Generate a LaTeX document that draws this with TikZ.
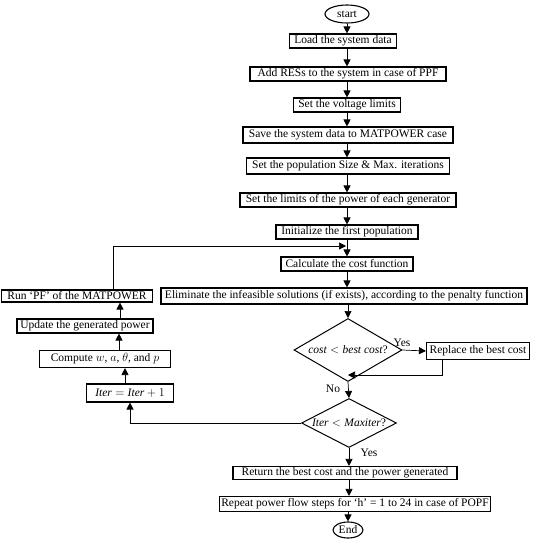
\documentclass[tikz,border=0pt]{standalone}
\usepackage{fontspec}
\setmainfont{Liberation Serif}
\usetikzlibrary{arrows.meta,shapes.geometric}
\begin{document}
\begin{tikzpicture}[x=1pt,y=-1pt,
  box/.style={draw,line width=1.1pt,inner xsep=1.5pt,inner ysep=0.5pt,minimum height=14pt,font=\fontsize{11.5}{12}\selectfont},
  term/.style={draw,ellipse,line width=1.1pt,inner sep=0pt,font=\fontsize{11.5}{12}\selectfont},
  dec/.style={draw,diamond,line width=1pt,inner sep=0pt,font=\fontsize{11.5}{12}\selectfont},
  conn/.style={line width=0.7pt,-{Triangle[length=7pt,width=7pt]}},
  lbl/.style={font=\fontsize{11.5}{12}\selectfont,inner sep=1pt}
]
\useasboundingbox (0,0) rectangle (539,550);
\node[term,minimum width=44pt,minimum height=18pt] (start) at (347,14) {start};
\node[box,minimum width=107pt] (load) at (343,41) {Load the system data};
\node[box,minimum width=196pt] (add) at (348,74) {Add RESs to the system in case of PPF};
\node[box,minimum width=107pt] (volt) at (347,105) {Set the voltage limits};
\node[box,minimum width=210pt,minimum height=16pt] (save) at (348,135) {Save the system data to MATPOWER case};
\node[box,minimum width=203pt,minimum height=16pt] (pop) at (348,166) {Set the population Size \& Max. iterations};
\node[box,minimum width=216pt] (lim) at (348,200) {Set the limits of the power of each generator};
\node[box,minimum width=142pt] (init) at (347,232) {Initialize the first population};
\node[box,minimum width=132pt] (calc) at (347,264) {Calculate the cost function};
\node[box,minimum width=366pt,minimum height=16pt] (elim) at (344,296) {Eliminate the infeasible solutions (if exists), according to the penalty function};
\node[dec,minimum width=108pt,minimum height=63pt] (d1) at (348,350) {\makebox[0pt][c]{$\mathit{cost} < \mathit{best\ cost}$?}};
\node[box,minimum width=103pt,minimum height=17pt] (rep) at (478,351) {Replace the best cost};
\node[dec,minimum width=95pt,minimum height=49pt] (d2) at (349,423) {\makebox[0pt][c]{$\mathit{Iter} < \mathit{Maxiter}$?}};
\node[box,minimum width=224pt,minimum height=13pt] (ret) at (345,473) {Return the best cost and the power generated};
\node[box,minimum width=265pt,minimum height=15pt] (rpt) at (355,504) {Repeat power flow steps for ‘h’ = 1 to 24 in case of POPF};
\node[term,minimum width=30pt,minimum height=16pt] (end) at (348,530) {End};
\node[box,minimum width=151pt,minimum height=12pt] (run) at (77,296) {Run ‘PF’ of the MATPOWER};
\node[box,minimum width=136pt] (upd) at (85,326) {Update the generated power};
\node[box,minimum width=131pt,minimum height=17pt] (comp) at (105,359) {Compute $w$, $a$, $\theta$, and $p$};
\node[box,minimum width=87pt,minimum height=18pt] (iter) at (130,393) {$\mathit{Iter} = \mathit{Iter} + 1$};
\node[lbl] (yes1) at (402,343) {Yes};
\node[lbl] (no1) at (333,389) {No};
\node[lbl] (yes2) at (369,453) {Yes};
\coordinate (j1) at (348,375);
\coordinate (m) at (346,246);
\draw[conn] (start) -- (start |- load.north);
\draw[conn] (load.south -| start) -- (start |- add.north);
\draw[conn] (add.south -| start) -- (start |- volt.north);
\draw[conn] (volt.south -| start) -- (start |- save.north);
\draw[conn] (save.south -| start) -- (start |- pop.north);
\draw[conn] (pop.south -| start) -- (start |- lim.north);
\draw[conn] (lim.south -| start) -- (start |- init.north);
\draw[conn] (init.south -| start) -- (start |- calc.north);
\draw[conn] (calc.south -| start) -- (start |- elim.north);
\draw[conn] (elim.south -| d1) -- (d1.north);
\draw[conn] (d1.east) -- (rep.west);
\draw[conn] ([xshift=-36pt]rep.south) |- (j1);
\draw[conn] (d1.south) -- (d2.north);
\draw[conn] (d2.west) -| (iter.south);
\draw[conn] ([xshift=-5pt]iter.north) -- ([xshift=-5pt]iter.north |- comp.south);
\draw[conn] ([xshift=14pt]comp.north) -- ([xshift=14pt]comp.north |- upd.south);
\draw[conn] ([xshift=35pt]upd.north) -- ([xshift=35pt]upd.north |- run.south);
\draw[conn] ([xshift=36pt]run.north) |- (m);
\draw[conn] (d2.south) -- (d2.south |- ret.north);
\draw[conn] (ret.south -| d2) -- (d2 |- rpt.north);
\draw[conn] (rpt.south -| end) -- (end.north);
\end{tikzpicture}
\end{document}
